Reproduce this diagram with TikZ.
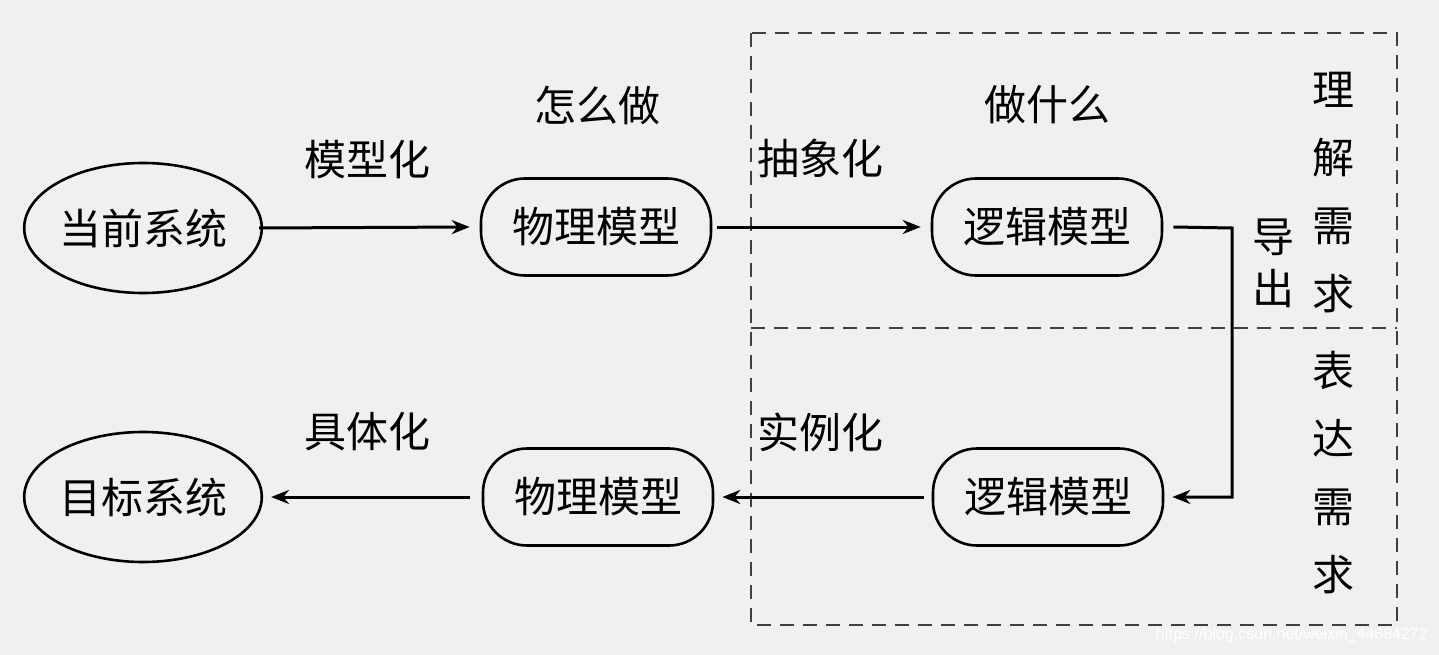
\documentclass[tikz,border=0pt]{standalone}
\usepackage{fontspec}
\newfontfamily\cjk{Noto Sans CJK SC}
\usetikzlibrary{shapes.geometric,arrows.meta}
\begin{document}
\begin{tikzpicture}[x=1pt,y=-1pt,
  every node/.style={font=\cjk\fontsize{42}{44}\selectfont, inner sep=0pt},
  sysnode/.style={ellipse, draw, line width=2.6pt, minimum width=236pt, minimum height=130pt},
  modelbox/.style={rectangle, rounded corners=44pt, draw, line width=2.6pt, minimum width=230pt, minimum height=97pt},
  conn/.style={line width=3pt, -{Stealth[length=18pt,width=14pt]}},
  region/.style={dash pattern=on 14pt off 9pt, line width=1.8pt, draw=black!75},
  lbl/.style={},
]
\fill[black!6] (0,0) rectangle (1439,655);
\useasboundingbox (0,0) rectangle (1439,655);

% nodes
\node[sysnode] (cur) at (143,228) {当前系统};
\node[sysnode] (tgt) at (143,497) {目标系统};
\node[modelbox] (p1) at (596,227) {物理模型};
\node[modelbox] (l1) at (1047,227) {逻辑模型};
\node[modelbox] (p2) at (598,497) {物理模型};
\node[modelbox] (l2) at (1048,497) {逻辑模型};

% labels
\node[lbl] (t1) at (367,160) {模型化};
\node[lbl] (t2) at (597,105) {怎么做};
\node[lbl] (t3) at (820,158) {抽象化};
\node[lbl] (t4) at (1047,105) {做什么};
\node[lbl] (t5) at (820,432) {实例化};
\node[lbl] (t6) at (367,432) {具体化};
\node[lbl, align=center] (t7) at (1273,263) {导\\[8pt]出};
\node[lbl, align=center] (t8) at (1333,193) {理\\[24pt]解\\[24pt]需\\[24pt]求};
\node[lbl, align=center] (t9) at (1333,473) {表\\[24pt]达\\[24pt]需\\[24pt]求};

% dashed region
\coordinate (rtl) at (751,33);
\coordinate (rbr) at (1397,625);
\coordinate (ml) at (751,328);
\coordinate (mr) at (1397,328);
\draw[region] (rtl) rectangle (rbr);
\draw[region] (ml) -- (mr);

% connectors
\draw[conn] ([xshift=-4pt]cur.east) -- ([xshift=-10pt]p1.west);
\draw[conn] ([xshift=5pt]p1.east) -- ([xshift=-10pt]l1.west);
\draw[conn] ([xshift=-8pt]l2.west) -- ([xshift=8pt]p2.west -| p2.east);
\draw[conn] ([xshift=-12pt]p2.west) -- ([xshift=8pt]tgt.east);
\coordinate (bend1) at (1232,228);
\coordinate (bend2) at (1232,497);
\draw[conn] ([xshift=10pt]l1.east) -- (bend1) -- (bend2) -- ([xshift=8pt]l2.east);

% watermark
\node[font=\fontspec{Liberation Sans}\fontsize{16}{17}\selectfont, text=white, anchor=east] (wm) at (1428,635) {https://blog.csdn.net/weixin\_44684272};
\end{tikzpicture}
\end{document}
